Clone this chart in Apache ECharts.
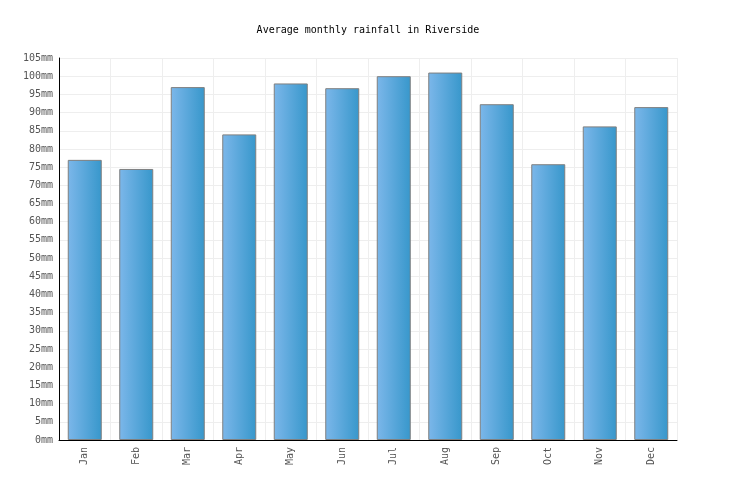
<!DOCTYPE html>
<html><head><meta charset="utf-8">
<script src="https://cdn.jsdelivr.net/npm/echarts@6/dist/echarts.min.js"></script>
<style>html,body{margin:0;padding:0;background:#fff}#c{width:736px;height:500px}</style>
</head><body><div id="c"></div>
<script>
const months = ['Jan','Feb','Mar','Apr','May','Jun','Jul','Aug','Sep','Oct','Nov','Dec'];
const rainfall = [77, 74.5, 97, 84, 98, 96.7, 100, 101, 92.3, 75.8, 86.2, 91.5];
const titleText = 'Average monthly rainfall in Riverside';
const unit = 'mm';

const font = '"DejaVu Sans Mono", monospace';
const chart = echarts.init(document.getElementById('c'), null, {renderer:'canvas'});
chart.setOption({
  animation: false,
  backgroundColor: '#fff',
  title: {
    text: titleText, left: 'center', top: 20,
    textStyle: {fontFamily: font, fontSize: 10, fontWeight: 'normal', color: '#000'}
  },
  grid: {left: 59, right: 59, top: 58, bottom: 60, containLabel: false},
  xAxis: {
    type: 'category', data: months,
    axisLine: {show: true, lineStyle: {color: '#000', width: 1}},
    axisTick: {show: false},
    axisLabel: {rotate: 90, fontFamily: font, fontSize: 10, color: '#555', margin: 7},
    splitLine: {show: true, lineStyle: {color: '#eeeeee', width: 1}}
  },
  yAxis: {
    type: 'value', min: 0, max: 105, interval: 5,
    axisLine: {show: true, lineStyle: {color: '#000', width: 1}},
    axisTick: {show: false},
    axisLabel: {formatter: '{value}' + unit, fontFamily: font, fontSize: 10, color: '#555', margin: 6},
    splitLine: {show: true, lineStyle: {color: '#eeeeee', width: 1}}
  },
  series: [{
    type: 'bar', data: rainfall, barWidth: 34,
    itemStyle: {
      borderColor: '#7f7f7f', borderWidth: 1,
      color: new echarts.graphic.LinearGradient(0, 0, 1, 0, [
        {offset: 0, color: '#7cb7ea'}, {offset: 1, color: '#3797cb'}
      ])
    }
  }]
});
</script></body></html>
